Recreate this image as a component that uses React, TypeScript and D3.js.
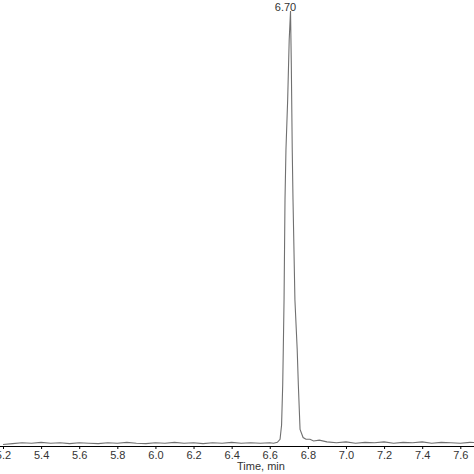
import React, { useEffect, useRef } from 'react';
import * as d3 from 'd3';

// chromatogram trace (time in min, relative intensity %)
const times = [
  5.20, 5.25, 5.30, 5.35, 5.40, 5.45, 5.50, 5.55, 5.60, 5.65, 5.70, 5.75, 5.80,
  5.85, 5.90, 5.95, 6.00, 6.05, 6.10, 6.15, 6.20, 6.25, 6.30, 6.35, 6.40, 6.45,
  6.50, 6.55, 6.60, 6.62, 6.64, 6.654, 6.662, 6.668, 6.671, 6.675, 6.680, 6.685,
  6.694, 6.702, 6.709, 6.713, 6.718, 6.722, 6.727, 6.732, 6.744, 6.750, 6.759,
  6.775, 6.790, 6.811, 6.83, 6.86, 6.90, 6.95, 7.00, 7.05, 7.10, 7.15, 7.20,
  7.25, 7.30, 7.35, 7.40, 7.45, 7.50, 7.55, 7.60, 7.65, 7.70
];
const intensity = [
  0.0, 0.2, 0.4, 0.3, 0.5, 0.3, 0.4, 0.2, 0.4, 0.3, 0.2, 0.4, 0.3,
  0.5, 0.3, 0.2, 0.4, 0.3, 0.5, 0.3, 0.4, 0.2, 0.4, 0.3, 0.5, 0.3,
  0.4, 0.3, 0.4, 0.3, 0.5, 1.2, 4.5, 13.8, 21.9, 33.4, 56.5, 68.0,
  79.5, 93.3, 100, 88.0, 68.0, 56.5, 45.0, 33.4, 21.9, 13.8, 3.5,
  1.6, 1.2, 1.2, 0.8, 1.0, 0.6, 0.4, 0.6, 0.3, 0.5, 0.4, 0.6,
  0.3, 0.5, 0.4, 0.6, 0.3, 0.5, 0.4, 0.3, 0.5, 0.4
];
const tickValues = [5.2, 5.4, 5.6, 5.8, 6.0, 6.2, 6.4, 6.6, 6.8, 7.0, 7.2, 7.4, 7.6];
const peakLabel = '6.70';
const peakTime = 6.709;
const xTitle = 'Time, min';

const W = 474;
const H = 474;

export default function App() {
  const svgRef = useRef<SVGSVGElement>(null);

  useEffect(() => {
    if (!svgRef.current) return;
    const svg = d3.select(svgRef.current);
    svg.selectAll('*').remove();

    const axisY = 446;
    const x = d3.scaleLinear().domain([5.2, 7.6]).range([3, 460.3]);
    const y = d3.scaleLinear().domain([0, 100]).range([444.5, 11]);

    const pts = times.map((t, i) => [t, intensity[i]] as [number, number]);
    const line = d3.line<[number, number]>()
      .x(d => x(d[0]))
      .y(d => y(d[1]));

    // axis
    const axis = d3.axisBottom(x)
      .tickValues(tickValues)
      .tickFormat(d3.format('.1f'))
      .tickSize(3)
      .tickSizeOuter(0)
      .tickPadding(2);

    const g = svg.append('g').attr('transform', `translate(0,${axisY})`).call(axis);
    g.select('.domain').remove();
    g.append('line')
      .attr('x1', 0).attr('x2', W)
      .attr('y1', 0.5).attr('y2', 0.5)
      .attr('stroke', '#000').attr('stroke-width', 1);
    g.selectAll('.tick line').attr('stroke', '#000');
    g.selectAll('.tick text')
      .attr('fill', '#333')
      .attr('font-size', 11)
      .attr('font-family', 'Liberation Sans, Arial, sans-serif');

    // trace
    svg.append('path')
      .datum(pts)
      .attr('fill', 'none')
      .attr('stroke', '#707070')
      .attr('stroke-width', 1.1)
      .attr('d', line);

    // peak label
    svg.append('text')
      .attr('x', x(peakTime) - 5)
      .attr('y', 11)
      .attr('text-anchor', 'middle')
      .attr('fill', '#333')
      .attr('font-size', 11)
      .attr('font-family', 'Liberation Sans, Arial, sans-serif')
      .text(peakLabel);

    // axis title
    svg.append('text')
      .attr('x', 261)
      .attr('y', 470)
      .attr('text-anchor', 'middle')
      .attr('fill', '#333')
      .attr('font-size', 11)
      .attr('font-family', 'Liberation Sans, Arial, sans-serif')
      .text(xTitle);
  }, []);

  return (
    <svg
      ref={svgRef}
      width={W}
      height={H}
      style={{ position: 'absolute', left: 0, top: 0, background: '#fff', display: 'block' }}
    />
  );
}
